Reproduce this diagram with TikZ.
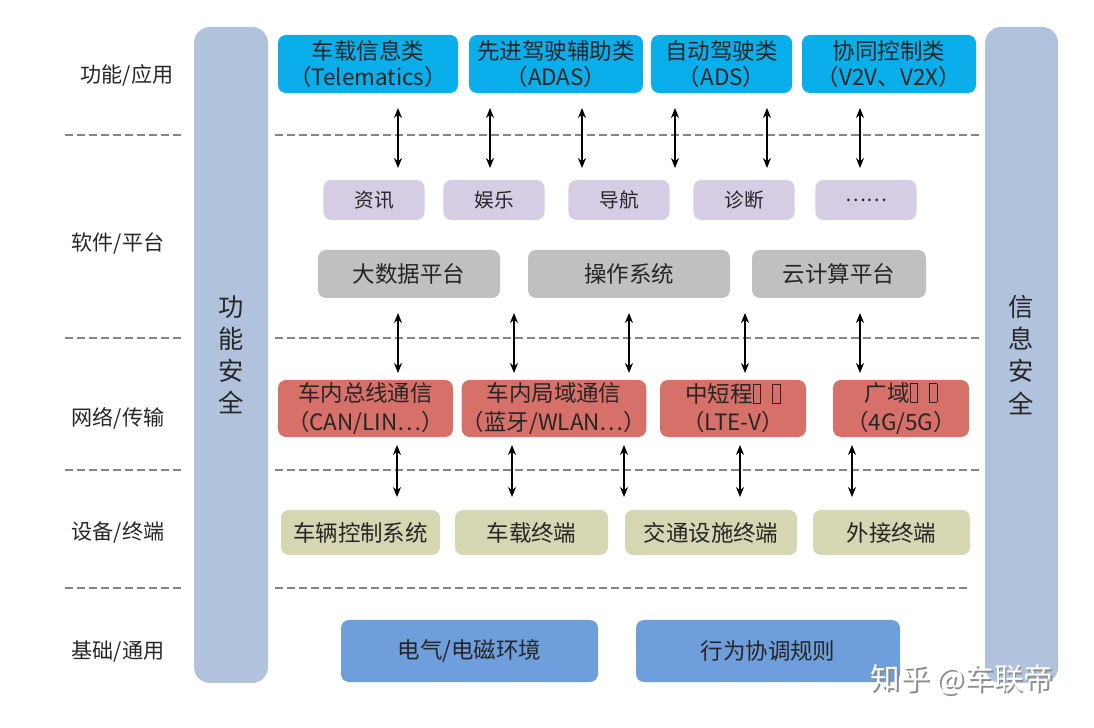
\documentclass[tikz,border=0pt]{standalone}
\usepackage{fontspec}
\setmainfont{Noto Sans CJK SC}
\usepackage{xcolor}
\usepackage{tikz}
\usetikzlibrary{arrows.meta,positioning}
\definecolor{vbarre}{HTML}{B0C2DC}
\definecolor{vapp}{HTML}{0AAEEA}
\definecolor{vservice}{HTML}{D6CCE3}
\definecolor{vplateforme}{HTML}{C0C0C0}
\definecolor{vreseau}{HTML}{D77069}
\definecolor{vterminal}{HTML}{D7D6B2}
\definecolor{vbase}{HTML}{6F9EDC}
\definecolor{vtrait}{HTML}{858585}
\definecolor{vtexte}{HTML}{262626}
\newcommand{\glyphvide}{{\setlength{\fboxsep}{0pt}\setlength{\fboxrule}{0.5pt}\fbox{\rule{0pt}{0.8em}\hspace{0.3em}}}}
\tikzset{
  couche/.style={rounded corners=0.2cm, inner sep=0pt, align=center, text=vtexte},
  appbox/.style={couche, fill=vapp, minimum height=1.45cm, font=\fontsize{16}{18.5}\selectfont},
  servbox/.style={couche, fill=vservice, minimum height=1.0cm, minimum width=2.53cm, font=\fontsize{14}{16}\selectfont},
  platbox/.style={couche, fill=vplateforme, minimum height=1.2cm, font=\fontsize{16}{18}\selectfont},
  resbox/.style={couche, fill=vreseau, minimum height=1.425cm, font=\fontsize{16}{20}\selectfont},
  termbox/.style={couche, fill=vterminal, minimum height=1.125cm, font=\fontsize{16}{18}\selectfont},
  basebox/.style={couche, fill=vbase, minimum height=1.55cm, font=\fontsize{16}{18}\selectfont},
  barre/.style={couche, rounded corners=0.4cm, fill=vbarre, minimum width=1.85cm, minimum height=16.4cm, font=\fontsize{18}{22.8}\selectfont},
  niveau/.style={text=vtexte, font=\fontsize{15}{17}\selectfont},
  separ/.style={vtrait, line width=1.8pt, dash pattern=on 0.2cm off 0.1cm},
  fleche/.style={{Stealth[length=2.5mm,width=2mm]}-{Stealth[length=2.5mm,width=2mm]}, line width=0.8pt, black}
}
\begin{document}
\begin{tikzpicture}
  \useasboundingbox (0,0) rectangle (27.35,18.175);
  % Barres verticales
  \node[barre] (fsecu) at (5.775,9.3) {功\\能\\安\\全};
  \node[barre, minimum width=1.825cm] (isecu) at (25.54,9.3) {信\\息\\安\\全};
  % Niveaux (gauche)
  \node[niveau] (nfonc) at (3.175,16.3) {功能/应用};
  \node[niveau] (nlog) at (2.95,12.1) {软件/平台};
  \node[niveau] (nres) at (2.95,7.725) {网络/传输};
  \node[niveau] (nequ) at (2.95,4.875) {设备/终端};
  \node[niveau] (nbase) at (2.95,1.875) {基础/通用};
  % Separateurs
  \foreach \y in {14.8,9.725,6.425,3.475}
    \draw[separ] (1.625,\y) -- (4.625,\y);
  \foreach \y in {14.8,9.725,6.425}
    \draw[separ] (6.875,\y) -- (24.5,\y);
  \draw[separ] (6.875,3.475) -- (24.25,3.475);
  % --- Fonctions / applications ---
  \node[appbox, minimum width=4.5cm] (app1) at (9.2,16.575) {车载信息类\\（Telematics）};
  \node[appbox, minimum width=4.35cm] (app2) at (13.9,16.575) {先进驾驶辅助类\\（ADAS）};
  \node[appbox, minimum width=3.525cm] (app3) at (18.04,16.575) {自动驾驶类\\（ADS）};
  \node[appbox, minimum width=4.35cm] (app4) at (22.225,16.575) {协同控制类\\（V2V、V2X）};
  % Services
  \foreach \x/\t [count=\i] in {9.35/资讯,12.35/娱乐,15.475/导航,18.6/诊断,21.65/……}
    \node[servbox] (serv\i) at (\x,13.175) {\t};
  % Plateformes
  \node[platbox, minimum width=4.55cm] (plat1) at (10.225,11.325) {大数据平台};
  \node[platbox, minimum width=5.05cm] (plat2) at (15.725,11.325) {操作系统};
  \node[platbox, minimum width=4.35cm] (plat3) at (20.975,11.325) {云计算平台};
  % --- Reseau / transmission ---
  \node[resbox, minimum width=4.375cm] (res1) at (9.1375,7.9625) {车内总线通信\\（CAN/LIN…）};
  \node[resbox, minimum width=4.6cm] (res2) at (13.85,7.9625) {车内局域通信\\（蓝牙/WLAN…）};
  \node[resbox, minimum width=3.65cm] (res3) at (18.325,7.9625) {中短程\glyphvide\hspace{0.5em}\glyphvide\\（LTE-V）};
  \node[resbox, minimum width=3.4cm] (res4) at (22.525,7.9625) {广域\glyphvide\hspace{0.5em}\glyphvide\\（4G/5G）};
  % Equipements / terminaux
  \node[termbox, minimum width=3.975cm] (term1) at (9.0125,4.8625) {车辆控制系统};
  \node[termbox, minimum width=3.825cm] (term2) at (13.2875,4.8625) {车载终端};
  \node[termbox, minimum width=4.3cm] (term3) at (17.775,4.8625) {交通设施终端};
  \node[termbox, minimum width=3.925cm] (term4) at (22.2875,4.8625) {外接终端};
  % Base
  \node[basebox, minimum width=6.425cm] (base1) at (11.7375,1.9) {电气/电磁环境};
  \node[basebox, minimum width=6.6cm] (base2) at (19.2,1.9) {行为协调规则};
  % Fleches entre couches
  \foreach \x [count=\i] in {9.95,12.25,14.55,16.875,19.175,21.5} {
    \coordinate (fa\i) at (\x,15.475);
    \coordinate (fb\i) at (\x,13.975);
    \draw[fleche] (fa\i) -- (fb\i);
  }
  \foreach \x [count=\i] in {9.95,12.85,15.725,18.625,21.5} {
    \coordinate (ga\i) at (\x,10.35);
    \coordinate (gb\i) at (\x,8.85);
    \draw[fleche] (ga\i) -- (gb\i);
  }
  \foreach \x [count=\i] in {9.925,12.8,15.6,18.5,21.3} {
    \coordinate (ha\i) at (\x,7.05);
    \coordinate (hb\i) at (\x,5.75);
    \draw[fleche] (ha\i) -- (hb\i);
  }
  % Filigrane
  \node[text=black!45, font=\fontsize{21}{24}\selectfont] (ombre) at (24.09,1.135) {知乎 @车联帝};
  \node[text=white, font=\fontsize{21}{24}\selectfont] (filigrane) at (24.05,1.175) {知乎 @车联帝};
\end{tikzpicture}
\end{document}
